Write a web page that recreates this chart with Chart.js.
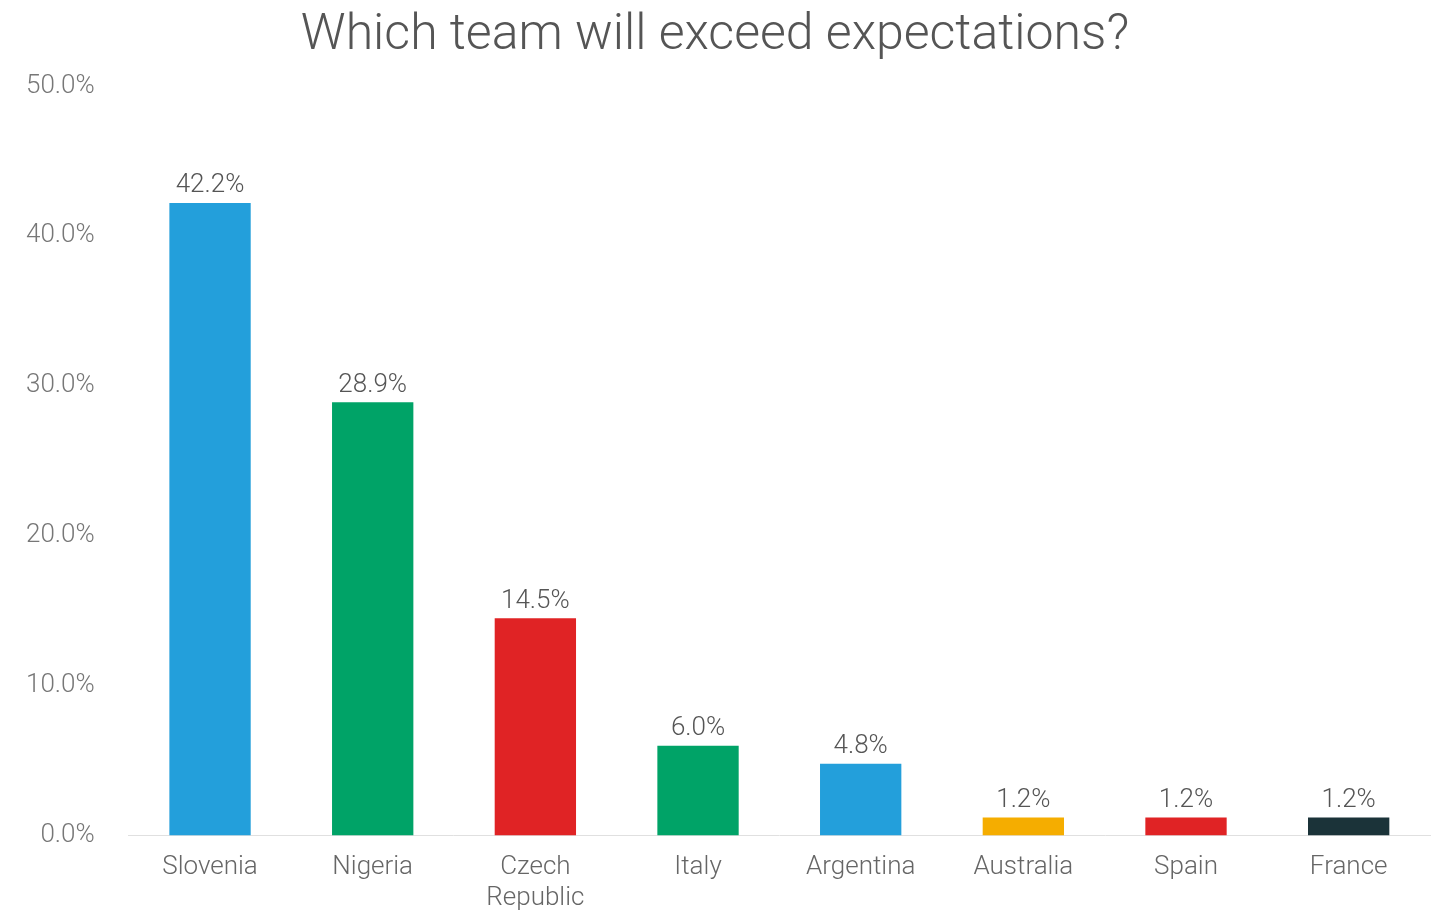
<!DOCTYPE html>
<html>
<head>
<meta charset="utf-8">
<script src="https://cdn.jsdelivr.net/npm/chart.js@4"></script>
<style>
  html, body { margin: 0; padding: 0; background: #fff; }
  #wrap { width: 1440px; height: 922px; }
</style>
</head>
<body>
<div id="wrap"><canvas id="chart"></canvas></div>
<script>
const categories = ["Slovenia", "Nigeria", ["Czech", "Republic"], "Italy", "Argentina", "Australia", "Spain", "France"];
const values = [42.2, 28.9, 14.5, 6.0, 4.8, 1.2, 1.2, 1.2];
const colors = ["#239fdb", "#00a367", "#e02325", "#00a367", "#239fdb", "#f5ad00", "#e02325", "#1b3339"];
const tickValues = [0, 10, 20, 30, 40, 50];

const valueLabels = {
  id: 'valueLabels',
  afterDatasetsDraw(chart) {
    const ctx = chart.ctx;
    const meta = chart.getDatasetMeta(0);
    ctx.save();
    ctx.font = '300 26px Roboto';
    ctx.fillStyle = '#555';
    ctx.textAlign = 'center';
    ctx.textBaseline = 'bottom';
    meta.data.forEach((bar, i) => {
      ctx.fillText(values[i].toFixed(1) + '%', bar.x, bar.y - 4);
    });
    ctx.restore();
  }
};

new Chart(document.getElementById('chart'), {
  type: 'bar',
  data: {
    labels: categories,
    datasets: [{
      data: values,
      backgroundColor: colors,
      barPercentage: 0.5,
      categoryPercentage: 1.0
    }]
  },
  options: {
    responsive: true,
    maintainAspectRatio: false,
    animation: false,
    layout: { padding: { left: 0, right: 10, top: 0, bottom: 0 } },
    plugins: {
      legend: { display: false },
      tooltip: { enabled: false },
      title: {
        display: true,
        text: 'Which team will exceed expectations?',
        color: '#555',
        font: { family: 'Roboto', weight: '300', size: 50 },
        padding: { top: 6, bottom: 20 }
      }
    },
    scales: {
      y: {
        min: 0,
        max: 50,
        afterBuildTicks(axis) { axis.ticks = tickValues.map(v => ({ value: v })); },
        grid: { display: false },
        border: { display: false },
        ticks: {
          color: '#777',
          font: { family: 'Roboto', weight: '300', size: 26 },
          padding: 26,
          callback: v => v.toFixed(1) + '%'
        }
      },
      x: {
        grid: { display: false },
        border: { display: true, color: '#e0e0e0' },
        ticks: {
          color: '#666',
          font: { family: 'Roboto', weight: '300', size: 26 },
          maxRotation: 0,
          padding: 8
        }
      }
    }
  },
  plugins: [valueLabels]
});
</script>
</body>
</html>
